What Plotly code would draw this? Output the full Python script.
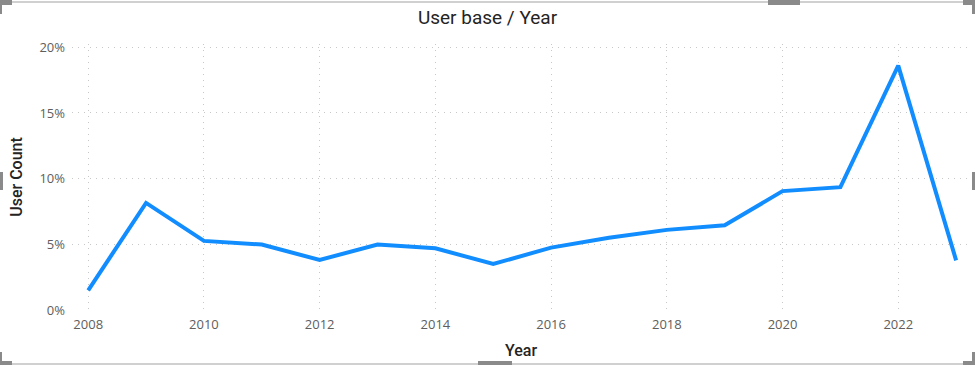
import plotly.graph_objects as go

years = list(range(2008, 2024))
user_share = [1.5, 8.15, 5.26, 4.98, 3.81, 4.98, 4.7, 3.5, 4.75, 5.5, 6.1, 6.45, 9.05, 9.35, 18.6, 3.78]
y_ticks = [0, 5, 10, 15, 20]
y_tick_labels = ["0%", "5%", "10%", "15%", "20%"]
x_ticks = list(range(2008, 2024, 2))

W, H = 975, 367
ML, MR, MT, MB = 72, 5, 44, 57

fig = go.Figure()
fig.add_trace(go.Scatter(
    x=years, y=user_share, mode="lines",
    line=dict(color="#118DFF", width=4),
    hoverinfo="skip",
))

fig.update_layout(
    width=W, height=H,
    margin=dict(l=ML, r=MR, t=MT, b=MB),
    paper_bgcolor="white", plot_bgcolor="white",
    showlegend=False,
    title=dict(text="User base / Year", x=0.5, xanchor="center", y=1 - 17 / H, yanchor="middle",
               font=dict(family="Roboto", size=19, color="#252423")),
    font=dict(family="Open Sans"),
)
grid = dict(showgrid=True, gridcolor="#C8C8C8", griddash="1px,5px", gridwidth=1.3)
fig.update_xaxes(
    range=[2007.72, 2023.24], tickmode="array", tickvals=x_ticks,
    zeroline=False, showline=False, ticks="", ticklabelstandoff=5, **grid,
    tickfont=dict(family="Open Sans", size=13, color="#605E5C"),
    title=dict(text="Year", font=dict(family="Roboto", weight=500, size=16, color="#252423"), standoff=12),
)
fig.update_yaxes(
    range=[0, 20.25], tickmode="array", tickvals=y_ticks, ticktext=y_tick_labels,
    zeroline=False, showline=False, ticks="", ticklabelstandoff=6, **grid,
    tickfont=dict(family="Open Sans", size=13, color="#605E5C"),
    title=dict(text="User Count", font=dict(family="Roboto", weight=500, size=16, color="#252423"), standoff=12),
)

# frame (pixel coordinates converted to plot-area paper coordinates)
PW, PH = W - ML - MR, H - MT - MB
border = "#D0D0D0"
handle = "#8A8A8A"
def px(x0, y0, x1, y1, color):
    return dict(type="rect", xref="paper", yref="paper",
                x0=(x0 - ML) / PW, x1=(x1 - ML) / PW,
                y0=(H - MB - y1) / PH, y1=(H - MB - y0) / PH,
                fillcolor=color, line=dict(width=0), layer="above")
frame = [
    px(0, 1, 975, 3, border),
    px(0, 363, 975, 365, border),
    px(0, 0, 12, 5, handle), px(0, 0, 2, 14, handle),
    px(963, 0, 975, 5, handle), px(972, 0, 975, 14, handle),
    px(0, 352, 2, 365, handle), px(0, 361, 12, 365, handle),
    px(972, 352, 975, 365, handle), px(963, 361, 975, 365, handle),
    px(768, 0, 800, 5, handle), px(478, 361, 512, 365, handle),
    px(0, 172, 3, 190, handle), px(972, 172, 975, 190, handle),
]
fig.update_layout(shapes=frame)

fig.write_html("out.html")
